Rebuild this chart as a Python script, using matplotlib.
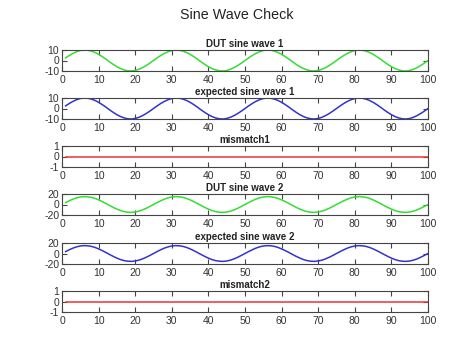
import matplotlib
matplotlib.use("Agg")
import matplotlib.pyplot as plt

plt.rcParams['font.family'] = ['Liberation Sans', 'DejaVu Sans']
plt.rcParams['axes.unicode_minus'] = False

# one period (25 samples), sample index 1..25
x = list(range(1, 101))
period1 = [2.5, 4.8, 6.8, 8.4, 9.5, 10.0, 9.8, 9.0, 7.7, 5.9, 3.7, 1.3,
           -1.3, -3.7, -5.9, -7.7, -9.0, -9.8, -10.0, -9.5, -8.4, -6.8, -4.8, -2.5, 0.0]
period2 = [3.7, 7.2, 10.3, 12.7, 14.3, 15.0, 14.7, 13.6, 11.6, 8.8, 5.5, 1.9,
           -1.9, -5.5, -8.8, -11.6, -13.6, -14.7, -15.0, -14.3, -12.7, -10.3, -7.2, -3.7, 0.0]
dut1 = period1 * 4
exp1 = period1 * 4
dut2 = period2 * 4
exp2 = period2 * 4
mismatch1 = [0.0] * 100
mismatch2 = [0.0] * 100

titles = ["DUT sine wave 1", "expected sine wave 1", "mismatch1",
          "DUT sine wave 2", "expected sine wave 2", "mismatch2"]
series = [dut1, exp1, mismatch1, dut2, exp2, mismatch2]
colors = ['#33dd33', '#3333cc', '#ee3333', '#33dd33', '#3333cc', '#ee3333']
ylims = [(-10, 10), (-10, 10), (-1, 1), (-20, 20), (-20, 20), (-1, 1)]
yticks = [[-10, 0, 10], [-10, 0, 10], [-1, 0, 1], [-20, 0, 20], [-20, 0, 20], [-1, 0, 1]]
xticks = list(range(0, 101, 10))

W, H = 474, 355
fig = plt.figure(figsize=(W / 100, H / 100), dpi=100)
fig.text(0.5, 1 - 15 / H, "Sine Wave Check", ha='center', va='center', fontsize=10.3, color='#222222')

tops = [50, 98, 146, 194, 243, 291]
ax_h = 21
left, right = 62, 428
for i in range(6):
    t = tops[i]
    ax = fig.add_axes([left / W, 1 - (t + ax_h) / H, (right - left) / W, ax_h / H])
    ax.plot(x, series[i], color=colors[i], lw=1.1)
    ax.set_xlim(0, 100)
    ax.set_ylim(*ylims[i])
    ax.set_xticks(xticks)
    ax.set_yticks(yticks[i])
    ax.tick_params(direction='in', top=True, right=True, length=3.5, width=0.8,
                   labelsize=7.5, colors='#444444')
    ax.tick_params(axis='x', pad=3)
    ax.tick_params(axis='y', pad=2)
    for lab in ax.get_xticklabels() + ax.get_yticklabels():
        lab.set_color('#333333')
    for s in ax.spines.values():
        s.set_color('#444444')
        s.set_linewidth(0.8)
    ax.set_title(titles[i], fontsize=7, fontweight='bold', color='#222222', pad=2.5)

fig.savefig("out.png", dpi=100)
